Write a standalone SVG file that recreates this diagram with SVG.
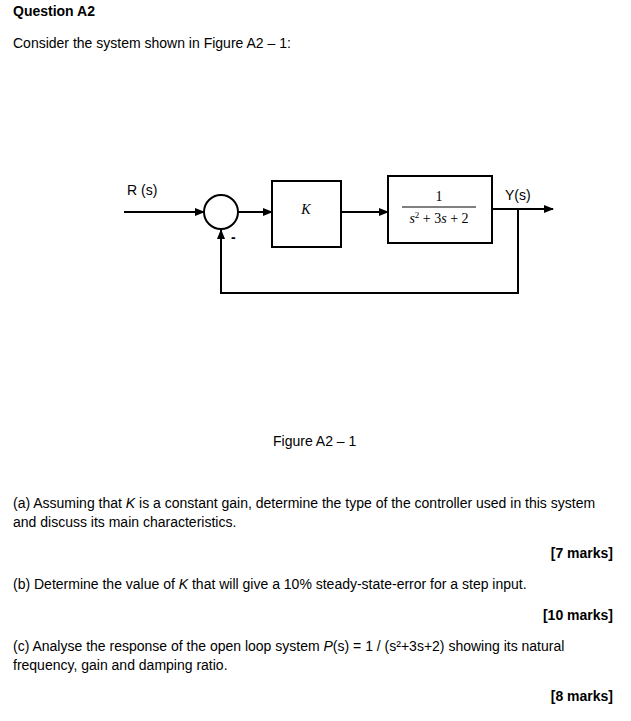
<svg xmlns="http://www.w3.org/2000/svg" width="631" height="721" viewBox="0 0 631 721">
<style>
.t{font-family:"Liberation Sans",Arial,sans-serif;font-size:14px;fill:#000}
.b{font-weight:bold}
.l{stroke:#000;stroke-width:2;fill:none}
.m{font-family:"Liberation Serif",serif;font-size:14px}
</style>
<defs><marker id="a" markerWidth="10" markerHeight="10" refX="9" refY="5" orient="auto" markerUnits="userSpaceOnUse"><path d="M0,1 L10,5 L0,9 z"/></marker></defs>
<rect width="631" height="721" fill="#fff"/>
<text class="t b" x="13" y="16">Question A2</text>
<text class="t" x="13" y="48">Consider the system shown in Figure A2 – 1:</text>
<g id="connectors">
<line class="l" x1="124" y1="212" x2="204" y2="212" marker-end="url(#a)"/>
<line class="l" x1="238" y1="212" x2="272" y2="212" marker-end="url(#a)"/>
<line class="l" x1="341" y1="212" x2="388" y2="212" marker-end="url(#a)"/>
<line class="l" x1="492" y1="209" x2="553" y2="209" marker-end="url(#a)"/>
<polyline class="l" points="518,209 518,293 221,293 221,230" marker-end="url(#a)"/>
</g>
<g id="sum"><circle class="l" cx="221" cy="212" r="17"/><text class="t b" x="231" y="242">-</text></g>
<g id="K"><rect class="l" x="272" y="181" width="69" height="66"/><text class="m" x="306" y="214" font-style="italic" text-anchor="middle">K</text></g>
<g id="P"><rect class="l" x="388" y="176" width="104" height="67"/>
<text class="m" x="439" y="201" text-anchor="middle">1</text>
<line x1="402" y1="207" x2="476" y2="207" stroke="#000"/>
<text class="m" x="439" y="223" text-anchor="middle"><tspan font-style="italic">s</tspan><tspan font-size="9" dy="-5">2</tspan><tspan dy="5"> + 3</tspan><tspan font-style="italic">s</tspan> + 2</text></g>
<text class="t" x="127" y="195" font-size="12">R (s)</text>
<text class="t" x="505" y="200" font-size="12">Y(s)</text>
<text class="t" x="273" y="446">Figure A2 – 1</text>
<text class="t" x="13" y="508">(a) Assuming that <tspan font-style="italic">K</tspan> is a constant gain, determine the type of the controller used in this system</text>
<text class="t" x="13" y="527">and discuss its main characteristics.</text>
<text class="t b" x="613" y="558" text-anchor="end">[7 marks]</text>
<text class="t" x="13" y="589">(b) Determine the value of <tspan font-style="italic">K</tspan> that will give a 10% steady-state-error for a step input.</text>
<text class="t b" x="613" y="620" text-anchor="end">[10 marks]</text>
<text class="t" x="13" y="651">(c) Analyse the response of the open loop system <tspan font-style="italic">P</tspan>(s) = 1 / (s²+3s+2) showing its natural</text>
<text class="t" x="13" y="670">frequency, gain and damping ratio.</text>
<text class="t b" x="613" y="701" text-anchor="end">[8 marks]</text>
</svg>
